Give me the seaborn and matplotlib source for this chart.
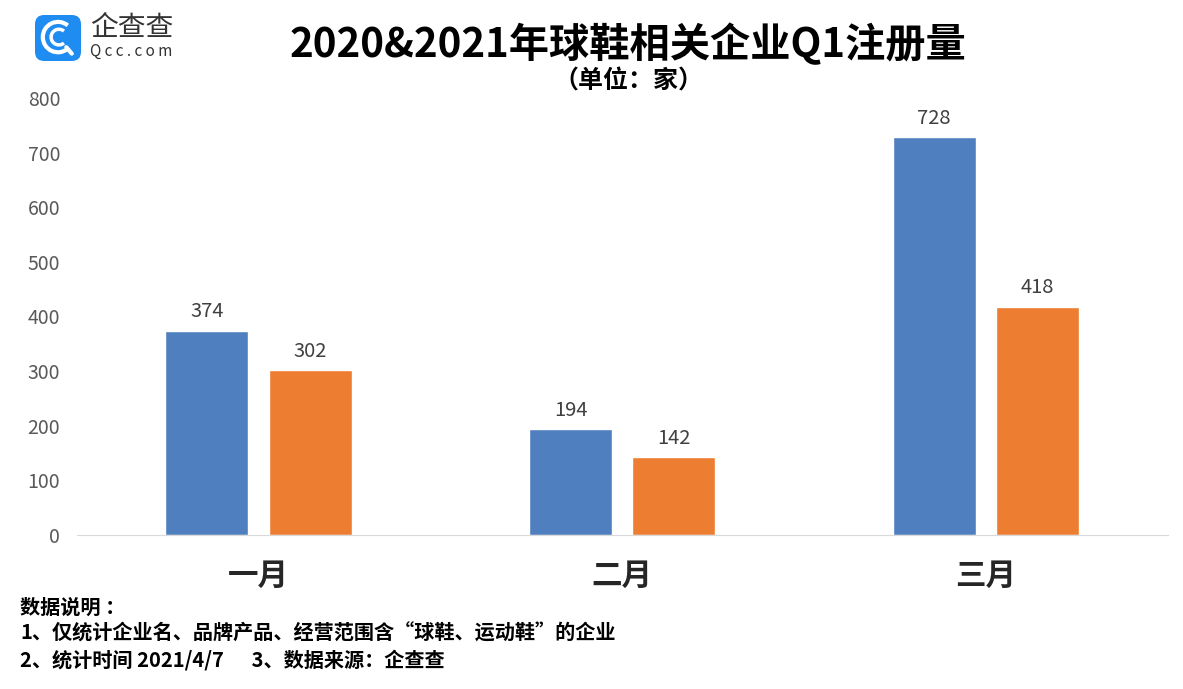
import pandas as pd
import matplotlib.pyplot as plt
import seaborn as sns
from matplotlib.patches import FancyBboxPatch, Arc

months = ["一月", "二月", "三月"]
years = ["2020", "2021"]
counts_2020 = [374, 194, 728]
counts_2021 = [302, 142, 418]

df = pd.DataFrame({
    "month": months * 2,
    "year": [years[0]] * 3 + [years[1]] * 3,
    "count": counts_2020 + counts_2021,
})

sns.set_style("white")
plt.rcParams['font.family'] = ['Noto Sans CJK SC', 'DejaVu Sans']

fig = plt.figure(figsize=(11.83, 6.89), dpi=100)
ax = fig.add_axes([0.065, 0.2235, 0.922, 0.6343])

sns.barplot(data=df, x="month", y="count", hue="year",
            palette=["#4F7FBE", "#ED7D31"], saturation=1,
            width=0.569, gap=0.198, legend=False, ax=ax)

for c in ax.containers:
    ax.bar_label(c, padding=6, fontsize=14.5, color="#404040")

ax.set_xlim(-0.5, 2.5)
ax.set_ylim(0, 800)
ax.set_yticks(range(0, 801, 100))
ax.set_xlabel("")
ax.set_ylabel("")
ax.tick_params(axis="y", labelsize=14, labelcolor="#595959", length=0, pad=12)
ax.tick_params(axis="x", labelsize=22, length=0, pad=18)
for lbl in ax.get_xticklabels():
    lbl.set_fontweight("bold")
for s in ["top", "right", "left"]:
    ax.spines[s].set_visible(False)
ax.spines["bottom"].set_color("#D9D9D9")

# title
fig.text(0.531, 0.935, "2020&2021年球鞋相关企业Q1注册量", ha="center", va="center",
         fontsize=29, fontweight="bold", color="black")
fig.text(0.531, 0.882, "（单位：家）", ha="center", va="center",
         fontsize=18, fontweight="bold", color="black")

# logo
lax = fig.add_axes([35 / 1183, 1 - 61 / 689, 46 / 1183, 46 / 689])
lax.set_xlim(0, 1)
lax.set_ylim(0, 1)
lax.set_aspect("equal")
lax.axis("off")
lax.add_patch(FancyBboxPatch((0, 0), 1, 1, boxstyle="round,pad=0,rounding_size=0.2",
                             facecolor="#1E8CF0", edgecolor="none"))
lax.add_patch(Arc((0.5, 0.52), 0.66, 0.66, theta1=50, theta2=310,
                  color="white", lw=3))
lax.add_patch(Arc((0.52, 0.52), 0.34, 0.34, theta1=50, theta2=310,
                  color="white", lw=2.5))
lax.plot([0.68, 0.8], [0.3, 0.16], color="white", lw=3, solid_capstyle="round")
fig.text(90 / 1183, 1 - 28 / 689, "企查查", ha="left", va="center",
         fontsize=20, color="#333333")
fig.text(90 / 1183, 1 - 51 / 689, "Q c c . c o m", ha="left", va="center",
         fontsize=11, color="#333333")

# footer notes
notes = [
    "数据说明 ：",
    "1、仅统计企业名、品牌产品、经营范围含“球鞋、运动鞋”的企业",
    "2、统计时间 2021/4/7      3、数据来源：企查查",
]
for i, t in enumerate(notes):
    fig.text(20 / 1183, 1 - (607 + 26.5 * i) / 689, t, ha="left", va="center",
             fontsize=14.5, fontweight="bold", color="black")

fig.savefig("out.png", dpi=100)
